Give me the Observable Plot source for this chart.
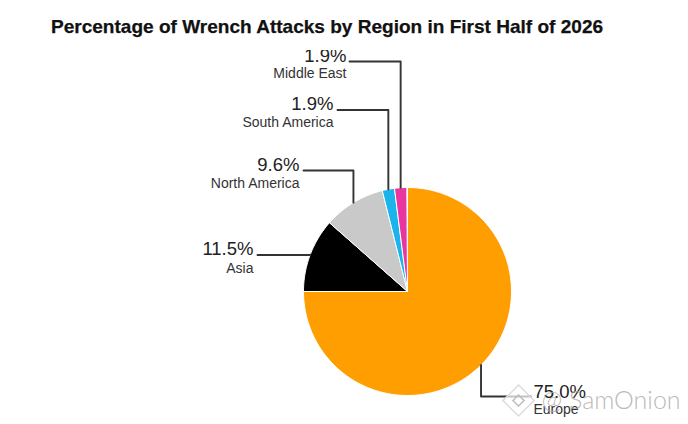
<!DOCTYPE html>
<html>
<head>
<meta charset="utf-8">
<script src="https://cdn.jsdelivr.net/npm/d3@7"></script>
<script src="https://cdn.jsdelivr.net/npm/@observablehq/plot@0.6"></script>
<style>
  html, body { margin: 0; padding: 0; background: #fff; }
  #title { position: absolute; left: 51px; top: 15px; font: 700 19.05px/24px "Liberation Sans", sans-serif; color: #111; white-space: nowrap; -webkit-text-stroke: 0.25px #111; }
  #chart { position: absolute; left: 0; top: 50px; }
</style>
</head>
<body>
<div id="title">Percentage of Wrench Attacks by Region in First Half of 2026</div>
<div id="chart"></div>
<script>
const regions = ["Europe", "Asia", "North America", "South America", "Middle East"];
const shares = [75.0, 11.5, 9.6, 1.9, 1.9];
const shareLabels = ["75.0%", "11.5%", "9.6%", "1.9%", "1.9%"];
const colors = ["#ff9e00", "#000000", "#c9c9c9", "#1bb3ec", "#e9359f"];

// Layout, in page pixels
const cx = 407, cy = 291, radius = 104;
const labelX = [533, 253, 299, 333, 346];
const labelBaseline = [397, 254.5, 170, 109.5, 61];
const subBaseline = [413, 272, 187, 126, 77];
const elbowY = [396, 254.5, 170, 109.5, 61];
const leaderEndX = [530, 257, 303, 337, 349];

const point = (deg, r = radius) => {
  const a = deg * Math.PI / 180;
  return [cx + r * Math.sin(a), cy - r * Math.cos(a)];
};

const slices = [];
const leaders = [];
let start = 0;
shares.forEach((v, i) => {
  const sweep = v * 3.6;
  const pts = [[cx, cy]];
  const steps = Math.ceil(sweep / 1.5);
  for (let k = 0; k <= steps; k++) pts.push(point(start + sweep * k / steps));
  pts.push([cx, cy]);
  pts.forEach(([x, y]) => slices.push({region: regions[i], x, y}));
  const [ax, ay] = point(start + sweep / 2);
  leaders.push({region: regions[i], x: ax, y: ay});
  leaders.push({region: regions[i], x: ax, y: elbowY[i]});
  leaders.push({region: regions[i], x: leaderEndX[i], y: elbowY[i]});
  start += sweep;
});

const labels = regions.map((r, i) => ({
  region: r, share: shareLabels[i], x: labelX[i], y: labelBaseline[i], y2: subBaseline[i],
  anchor: i === 0 ? "start" : "end"
}));
const labelsLeft = labels.filter(d => d.anchor === "start");
const labelsRight = labels.filter(d => d.anchor === "end");
const font = "Liberation Sans";

const plot = Plot.plot({
  width: 688, height: 374,
  margin: 0,
  style: {background: "transparent", overflow: "hidden"},
  x: {domain: [0, 688], range: [0, 688], axis: null},
  y: {domain: [50, 424], range: [0, 374], axis: null},
  color: {domain: regions, range: colors},
  marks: [
    Plot.line(slices, {x: "x", y: "y", z: "region", fill: "region", stroke: "white", strokeWidth: 1, curve: "linear"}),
    Plot.line(leaders, {x: "x", y: "y", z: "region", stroke: "#333", strokeWidth: 1.9, curve: "linear", strokeLinejoin: "round"}),
    ...[[labelsLeft, "start"], [labelsRight, "end"]].flatMap(([data, anchor]) => [
      Plot.text(data, {x: "x", y: "y", text: "share", textAnchor: anchor, lineAnchor: "bottom", fontSize: 18.5, fontFamily: font, fill: "#222"}),
      Plot.text(data, {x: "x", y: "y2", text: "region", textAnchor: anchor, lineAnchor: "bottom", fontSize: 14, fontFamily: font, fill: "#333"})
    ]),
    // Watermark
    Plot.dot([{x: 518, y: 400}], {x: "x", y: "y", symbol: "diamond2", r: 14, stroke: "#dcdcdc", strokeWidth: 1.5, fill: "white", fillOpacity: 0.7}),
    Plot.dot([{x: 518, y: 400}], {x: "x", y: "y", symbol: "diamond2", r: 5, stroke: "#bdbdbd", strokeWidth: 1.5}),
    Plot.text([{x: 541, y: 408, t: "@ SamOnion"}], {x: "x", y: "y", text: "t", textAnchor: "start", lineAnchor: "bottom", fontSize: 25, fontFamily: "Lato", fontWeight: 300, fill: "#a8a8a8", fillOpacity: 0.8})
  ]
});
document.getElementById("chart").append(plot);
</script>
</body>
</html>
